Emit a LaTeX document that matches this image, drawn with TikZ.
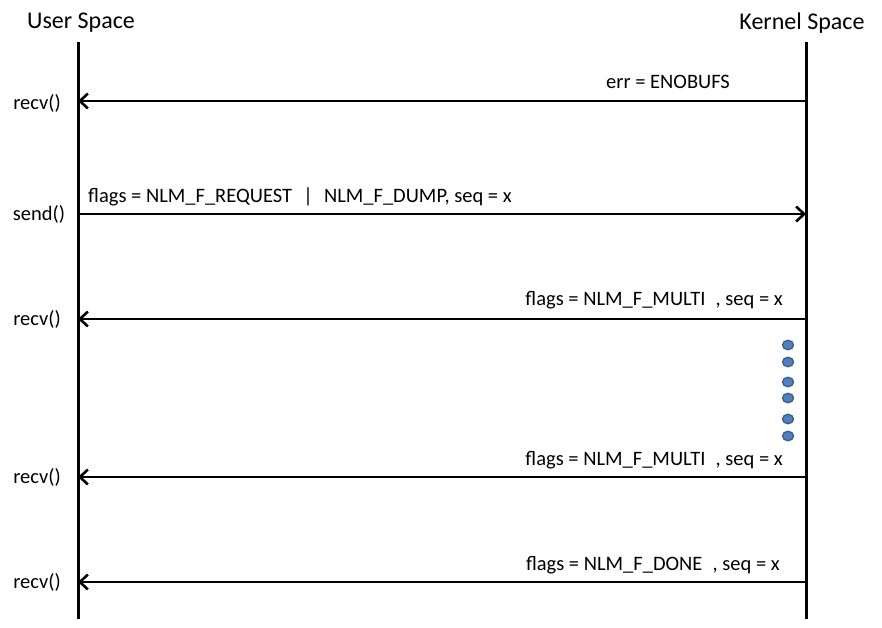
\documentclass[tikz,border=0pt]{standalone}
\usepackage{fontspec}
\setmainfont{Carlito}
\usetikzlibrary{arrows.meta}

\tikzset{
  lifeline/.style={line width=3pt},
  msg/.style={line width=2.8pt, -{Straight Barb[length=8pt,width=15pt,line width=2.6pt]}},
  call/.style={font=\fontsize{20.5}{24}\selectfont},
  msglabel/.style={font=\fontsize{20.5}{24}\selectfont, inner sep=0pt},
  dot/.style={ellipse, minimum width=11pt, minimum height=9.5pt, inner sep=0pt, fill=dotfill, draw=dotline, line width=1.3pt}
}
\definecolor{dotfill}{HTML}{4F81BD}
\definecolor{dotline}{HTML}{385D8A}
\usetikzlibrary{shapes.geometric}

\begin{document}
\begin{tikzpicture}[x=1pt,y=-1pt]
            \useasboundingbox (0,0) rectangle (882,627);
            % Lifelines
            \node[font=\fontsize{24}{28}\selectfont] (user) at (81,23) {User Space};
            \node[font=\fontsize{24}{28}\selectfont] (kernel) at (802,23) {Kernel Space};
            \coordinate (utop) at (78,42);
            \coordinate (ubot) at (78,619);
            \coordinate (ktop) at (806,42);
            \coordinate (kbot) at (806,619);
            \draw[lifeline] (utop) -- (ubot);
            \draw[lifeline] (ktop) -- (kbot);
            % Message points
            \coordinate (u1) at (78,101);  \coordinate (k1) at (806,101);
            \coordinate (u2) at (78,214);  \coordinate (k2) at (806,214);
            \coordinate (u3) at (78,319);  \coordinate (k3) at (806,319);
            \coordinate (u4) at (78,477);  \coordinate (k4) at (806,477);
            \coordinate (u5) at (78,582);  \coordinate (k5) at (806,582);
            % Calls
            \node[call] (recvA) at (37,103) {recv()};
            \node[call] (send) at (39,214) {send()};
            \node[call] (recvB) at (37,319) {recv()};
            \node[call] (recvC) at (37,477) {recv()};
            \node[call] (recvD) at (37,582) {recv()};
            % Messages
            \draw[msg] (k1) -- (u1);
            \node[msglabel] (err) at (668,82) {err = ENOBUFS};
            \draw[msg] (u2) -- (k2);
            \node[msglabel, anchor=west] (req) at (88,197) {flags = NLM\_F\_REQUEST\hspace{0.55em}|\hspace{0.55em}NLM\_F\_DUMP, seq = x};
            \draw[msg] (k3) -- (u3);
            \node[msglabel, anchor=east] (multiA) at (783,300) {flags = NLM\_F\_MULTI\hspace{0.5em}, seq = x};
            \draw[msg] (k4) -- (u4);
            \node[msglabel, anchor=east] (multiB) at (783,460) {flags = NLM\_F\_MULTI\hspace{0.5em}, seq = x};
            \draw[msg] (k5) -- (u5);
            \node[msglabel, anchor=east] (done) at (780,565) {flags = NLM\_F\_DONE\hspace{0.5em}, seq = x};
            % Dots
            \node[dot] (d1) at (788,345) {};
            \node[dot] (d2) at (788,362) {};
            \node[dot] (d3) at (788,382) {};
            \node[dot] (d4) at (788,398) {};
            \node[dot] (d5) at (788,419) {};
            \node[dot] (d6) at (788,436) {};
        \end{tikzpicture}
\end{document}
